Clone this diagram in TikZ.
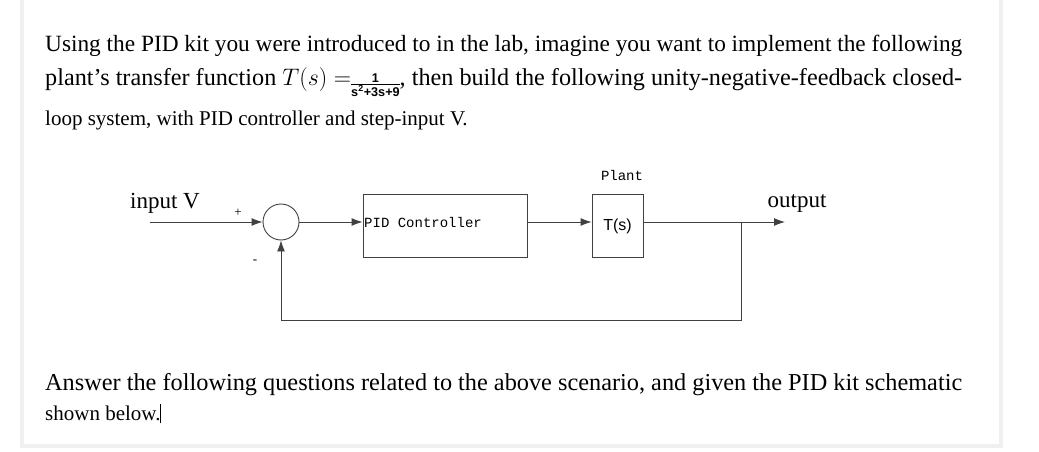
\documentclass[tikz,border=0pt]{standalone}
\usepackage{fontspec}
\setmainfont{Liberation Serif}
\setmonofont{Liberation Mono}
\setsansfont{Liberation Sans}
\usepackage{graphicx}
\usetikzlibrary{arrows.meta}
\tikzset{
  txt/.style={anchor=base west,inner sep=0pt,font=\fontsize{21}{24}\selectfont},
  blk/.style={draw=black!75,line width=0.9pt,inner sep=0pt},
  sig/.style={draw=black!75,line width=0.9pt,-{Latex[length=11pt,width=8pt]}},
  ln/.style={draw=black!75,line width=0.9pt},
}
\newcommand{\myfrac}{\raisebox{-4pt}{\fontsize{11}{12}\selectfont\sffamily\bfseries\begin{tabular}{@{}c@{}}1\\[-2pt]\hline\rule{0pt}{10pt}s\textsuperscript{2}+3s+9\end{tabular}}}
\begin{document}
\begin{tikzpicture}[x=1pt,y=-1pt]
\useasboundingbox (0,0) rectangle (1039,452);
\fill[white] (0,0) rectangle (1039,452);
\draw[draw=blue!5!black!6,line width=4pt] (22,-5) -- (22,446) -- (1001,446) -- (1001,-5);
\node[txt] (l1) at (45,52) {\resizebox{917pt}{!}{Using the PID kit you were introduced to in the lab, imagine you want to implement the following}};
\node[txt] (l2) at (45,85) {\resizebox{917pt}{!}{plant's transfer function $T(s)=$\myfrac, then build the following unity-negative-feedback closed-}};
\node[txt] (l3) at (45,125) {loop system, with PID controller and step-input V.};
\node[txt] (a1) at (45,390) {\resizebox{917pt}{!}{Answer the following questions related to the above scenario, and given the PID kit schematic}};
\node[txt] (a2) at (45,420) {shown below.\rule[-3pt]{0.8pt}{19pt}};
% diagram
\coordinate (in) at (150,222);
\node[circle,ln,minimum size=36pt,inner sep=0pt] (sum) at (281,222) {};
\node[blk,minimum width=164pt,minimum height=63pt] (pid) at (445,226) {};
\node[anchor=west,inner sep=0pt,font=\ttfamily\fontsize{14}{16}\selectfont] (pidt) at (364,222) {PID Controller};
\node[blk,minimum width=51pt,minimum height=63pt,font=\sffamily\fontsize{16}{18}\selectfont] (pl) at (617.5,226) {T(s)};
\node[font=\ttfamily\fontsize{14}{16}\selectfont] (plt) at (622,175) {Plant};
\node[font=\fontsize{23}{26}\selectfont] (iv) at (165,203) {input V};
\node[font=\fontsize{23}{26}\selectfont] (ov) at (797,203) {output};
\node[font=\fontsize{13}{14}\selectfont] (plus) at (238,213) {+};
\node[font=\fontsize{13}{14}\selectfont] (minus) at (255,262) {-};
\coordinate (out) at (785,222);
\coordinate (br) at (741,222);
\coordinate (fb1) at (741,320);
\coordinate (fb2) at (281,320);
\draw[sig] (in) -- (sum.west);
\draw[sig] (sum.east) -- (pid.west |- sum.east);
\draw[sig] (pid.east |- sum.east) -- (pl.west |- sum.east);
\draw[sig] (pl.east |- sum.east) -- (out);
\draw[sig] (br) -- (fb1) -- (fb2) -- (sum.south);
\end{tikzpicture}
\end{document}
